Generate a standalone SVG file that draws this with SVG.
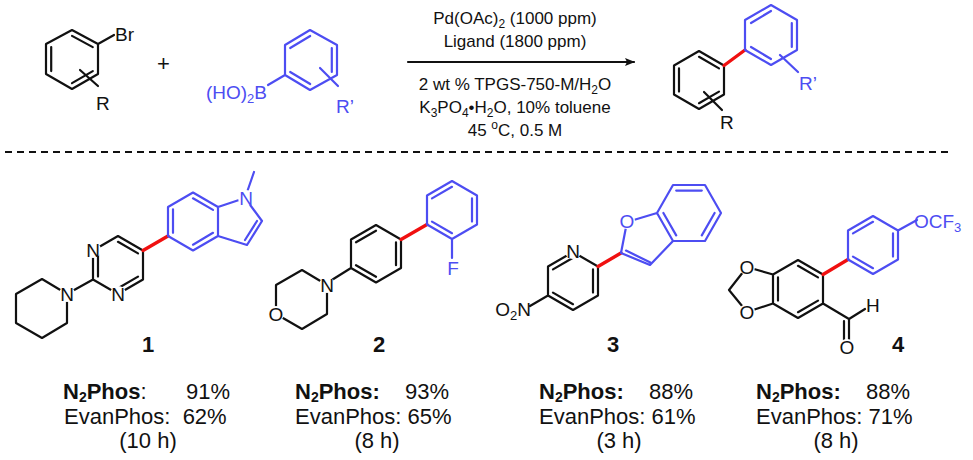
<svg xmlns="http://www.w3.org/2000/svg" width="973" height="460" viewBox="0 0 973 460">
<style>
.b{stroke:#111;stroke-width:2.2;fill:none;stroke-linejoin:round;stroke-linecap:round}
.u{stroke:#4d4df2;stroke-width:2.2;fill:none;stroke-linejoin:round;stroke-linecap:round}
.r{stroke:#f01010;stroke-width:3.4;fill:none;stroke-linecap:round}
.bg{fill:#fff;stroke:none}
text{font-family:"Liberation Sans",Arial,sans-serif;fill:#111}
.t{font-size:17px}
.a{font-size:19px}
.ab{font-size:19px;fill:#4d4df2}
.y{font-size:22px}
.n{font-size:22px;font-weight:bold}
.bl{fill:#4d4df2}
</style>
<defs><marker id="ah" markerWidth="10" markerHeight="8" refX="9" refY="4" orient="auto" markerUnits="userSpaceOnUse"><path d="M0,0 L10,4 L0,8 L2,4 z" fill="#111"/></marker></defs>

<g id="arylbromide">
<path class="b" d="M72,30 L98,44 L98,74 L72,89 L46,74 L46,44 Z M98,44 L114,35 M72,35.9 L92.8,47.1 M51.2,47.1 L51.2,71.1 M72,83.1 L92.8,71.1 M80,70 L98,86"/>
<text class="a" x="115" y="41">Br</text>
<text class="a" x="96" y="110">R</text>
</g>
<text id="plus" class="y" x="157" y="71">+</text>
<g id="boronic">
<path class="u" d="M310,30 L337,45 L337,75 L310,90 L285,75 L285,45 Z M285,75 L268,85 M290.2,48 L310.2,36 M331.8,48 L331.8,72 M310.2,84 L290.2,72 M320,68 L338,86"/>
<text class="a bl" x="267" y="99" text-anchor="end">(HO)<tspan font-size="13" baseline-shift="-4">2</tspan>B</text>
<text class="a bl" x="336" y="113">R’</text>
</g>
<g id="connectors">
<line class="b" x1="408" y1="62" x2="634" y2="62" marker-end="url(#ah)"/>
<line x1="5" y1="152" x2="952" y2="152" stroke="#111" stroke-width="2" stroke-dasharray="7,5"/>
</g>
<g id="conditions" text-anchor="middle">
<text class="t" x="515" y="24">Pd(OAc)<tspan font-size="12" baseline-shift="-4">2</tspan> (1000 ppm)</text>
<text class="t" x="515" y="47">Ligand (1800 ppm)</text>
<text class="t" x="515" y="90">2 wt % TPGS-750-M/H<tspan font-size="12" baseline-shift="-4">2</tspan>O</text>
<text class="t" x="515" y="113">K<tspan font-size="12" baseline-shift="-4">3</tspan>PO<tspan font-size="12" baseline-shift="-4">4</tspan>•H<tspan font-size="12" baseline-shift="-4">2</tspan>O, 10% toluene</text>
<text class="t" x="515" y="136">45 <tspan font-size="12" baseline-shift="7">o</tspan>C, 0.5 M</text>
</g>
<g id="product">
<path class="b" d="M699,51 L724,65.5 L724,94.5 L699,109 L674,94.5 L674,65.5 Z M699,56.8 L719,68.4 M679,68.4 L679,91.6 M699,103.2 L719,91.6 M704,92 L722,110"/>
<path class="r" d="M724,65.5 L745,50"/>
<path class="u" d="M771,5 L797,20 L797,50 L771,65 L745,50 L745,20 Z M751,23 L771,11 M791.8,23 L791.8,47 M771,59 L751,47 M780,55 L798,72"/>
<text class="a" x="720" y="129">R</text>
<text class="a bl" x="799" y="90">R’</text>
</g>

<g id="compound1">
<path class="b" d="M118,236 L143,250.5 L143,279.5 L118,294 L93,279.5 L93,250.5 Z M118,241.8 L138,253.4 M98,253.4 L98,276.6 M138,276.6 L118,288.2 M93,279.5 L67,294 M67,294 L67,323 L42,338 L16,323 L16,294 L42,279 Z"/>
<path class="r" d="M143,250.5 L168,236"/>
<path class="u" d="M168,236 L168,207 L193,192.5 L218,207 L218,236 L193,250.5 Z M173,209.3 L173,232.8 M193,198.3 L213,209.9 M213,232.8 L193,244.7 M218,207 L245,198 L262,221 L247,245 L218,236 M257,221 L245,240 M245,198 L254,172"/>
<circle class="bg" cx="93" cy="250" r="8"/><circle class="bg" cx="118" cy="294" r="8"/><circle class="bg" cx="67" cy="294" r="8"/><circle class="bg" cx="246" cy="198" r="8"/>
<text class="a" x="93" y="257" text-anchor="middle">N</text>
<text class="a" x="118" y="301" text-anchor="middle">N</text>
<text class="a" x="67" y="301" text-anchor="middle">N</text>
<text class="ab" x="246" y="205" text-anchor="middle">N</text>
<text class="n" x="148" y="352" text-anchor="middle">1</text>
<text class="n" x="63" y="399">N<tspan font-size="14" baseline-shift="-3">2</tspan>Phos<tspan font-weight="normal">:</tspan></text>
<text class="y" x="186" y="399">91%</text>
<text class="y" x="64" y="424">EvanPhos:&#160; 62%</text>
<text class="y" x="148" y="448" text-anchor="middle">(10 h)</text>
</g>

<g id="compound2">
<path class="b" d="M376,225 L401,239.5 L401,268 L376,282.5 L351,268 L351,239.5 Z M356,242.3 L376,230.7 M396,242.3 L396,265.2 M356,265.2 L376,276.8 M351,268 L327,283 M327,285 L302,270 L276,285 L276,314 L302,329 L327,314 Z"/>
<path class="r" d="M401,239.5 L427,224.5"/>
<path class="u" d="M452,181 L477,195.5 L477,224.5 L452,239 L427,224.5 L427,195.5 Z M432,198.4 L452,186.8 M472,198.4 L472,221.6 M452,233.2 L432,221.6 M452,239 L452,258"/>
<circle class="bg" cx="327" cy="285" r="8"/><circle class="bg" cx="276" cy="314" r="8"/>
<text class="a" x="327" y="292" text-anchor="middle">N</text>
<text class="a" x="276" y="321" text-anchor="middle">O</text>
<text class="ab" x="453" y="275" text-anchor="middle">F</text>
<text class="n" x="379" y="352" text-anchor="middle">2</text>
<text class="n" x="295" y="399">N<tspan font-size="14" baseline-shift="-3">2</tspan>Phos:</text>
<text class="y" x="405" y="399">93%</text>
<text class="y" x="295" y="424">EvanPhos: 65%</text>
<text class="y" x="377" y="448" text-anchor="middle">(8 h)</text>
</g>

<g id="compound3">
<path class="b" d="M573,252 L598,266.5 L598,295.5 L573,310 L548,295.5 L548,266.5 Z M573,257.8 L553,269.4 M593,269.4 L593,292.6 M573,304.2 L553,292.6 M548,295.5 L530,306"/>
<path class="r" d="M598,266.5 L621,253"/>
<path class="u" d="M621,253 L627,222 L657,213 L673,241 L650,265 Z M626,250.6 L650.4,262.4 M657,213 L673,185 L705,185 L721,213 L705,241 L673,241 M676.2,190.6 L701.8,190.6 M714.6,213 L701.8,235.4 M663.4,213 L676.2,235.4"/>
<circle class="bg" cx="573" cy="251" r="8"/><circle class="bg" cx="627" cy="221" r="8"/><circle class="bg" cx="517" cy="309" r="12"/>
<text class="a" x="573" y="258" text-anchor="middle">N</text>
<text class="ab" x="627" y="228" text-anchor="middle">O</text>
<text class="a" x="531" y="316" text-anchor="end">O<tspan font-size="13" baseline-shift="-4">2</tspan>N</text>
<text class="n" x="613" y="352" text-anchor="middle">3</text>
<text class="n" x="539" y="399">N<tspan font-size="14" baseline-shift="-3">2</tspan>Phos:</text>
<text class="y" x="649" y="399">88%</text>
<text class="y" x="539" y="424">EvanPhos: 61%</text>
<text class="y" x="619" y="448" text-anchor="middle">(3 h)</text>
</g>

<g id="compound4">
<path class="b" d="M798,260 L823,274.5 L823,303.5 L798,318 L773,303.5 L773,274.5 Z M798,265.8 L818,277.4 M778,277.4 L778,300.6 M818,300.6 L798,312.2 M773,274.5 L747,267 L729,290 L747,312 L773,303.5 M823,303.5 L849,319 L849,340 M844,321 L844,340 M849,319 L865,309"/>
<path class="r" d="M823,274.5 L848,259.5"/>
<path class="u" d="M873,216 L898,230.5 L898,259.5 L873,274 L848,259.5 L848,230.5 Z M853,233.4 L873,221.8 M893,233.4 L893,256.6 M873,268.2 L853,256.6 M898,230.5 L917,220"/>
<circle class="bg" cx="747" cy="267" r="8"/><circle class="bg" cx="747" cy="312" r="8"/><circle class="bg" cx="847" cy="347" r="8"/>
<text class="a" x="747" y="274" text-anchor="middle">O</text>
<text class="a" x="747" y="319" text-anchor="middle">O</text>
<text class="a" x="847" y="354" text-anchor="middle">O</text>
<text class="a" x="866" y="312">H</text>
<text class="ab" x="914" y="228">OCF<tspan font-size="13" baseline-shift="-4">3</tspan></text>
<text class="n" x="898" y="352" text-anchor="middle">4</text>
<text class="n" x="756" y="399">N<tspan font-size="14" baseline-shift="-3">2</tspan>Phos:</text>
<text class="y" x="866" y="399">88%</text>
<text class="y" x="756" y="424">EvanPhos: 71%</text>
<text class="y" x="836" y="448" text-anchor="middle">(8 h)</text>
</g>
</svg>
